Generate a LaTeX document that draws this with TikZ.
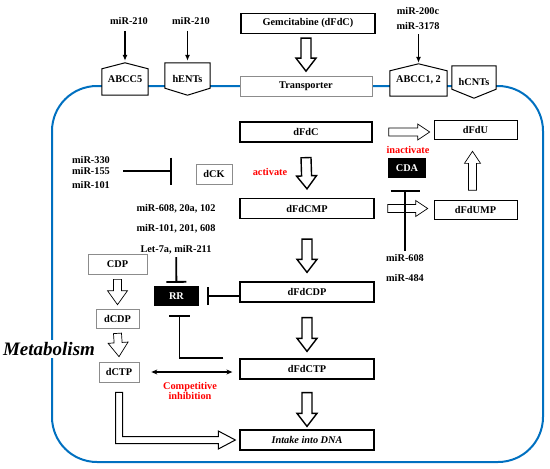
\documentclass[tikz,border=0pt]{standalone}
\usepackage{fontspec}
\setmainfont{Liberation Serif}
\usetikzlibrary{arrows.meta,positioning,calc}
\definecolor{membraneblue}{RGB}{0,112,192}
\definecolor{labelred}{RGB}{255,0,0}
\tikzset{
  box/.style      ={draw,line width=1.3pt,minimum width=134,minimum height=20,inner sep=0pt},
  thinbox/.style  ={draw,line width=0.7pt,minimum width=83,minimum height=19,inner sep=0pt},
  graybox/.style  ={draw=black!45,fill=white,line width=0.7pt,minimum height=20,inner sep=0pt},
  blackbox/.style ={fill=black,text=white,minimum height=20,inner sep=0pt},
  pump/.style     ={fill=white,minimum height=32,inner sep=0pt},
  mir/.style      ={align=center,inner sep=1pt},
  note/.style     ={text=labelred,align=center,inner sep=1pt},
  arrow/.style    ={-{Latex[length=6pt,width=5pt]},line width=1.1pt},
  inhibit/.style  ={-{Bar[width=#1]},line width=1.8pt},
  twoway/.style   ={{Stealth[length=6pt,width=5pt]}-{Stealth[length=6pt,width=5pt]},line width=1.6pt},
  hollow/.style n args={3}{to path={
      ($(\tikztostart)!#1!90:(\tikztotarget)$)
   -- ($($(\tikztotarget)!#3!(\tikztostart)$)!#1!90:(\tikztotarget)$)
   -- ($($(\tikztotarget)!#3!(\tikztostart)$)!#2!90:(\tikztotarget)$)
   -- (\tikztotarget)
   -- ($($(\tikztotarget)!#3!(\tikztostart)$)!#2!-90:(\tikztotarget)$)
   -- ($($(\tikztotarget)!#3!(\tikztostart)$)!#1!-90:(\tikztotarget)$)
   -- ($(\tikztostart)!#1!-90:(\tikztotarget)$)
   -- cycle}},
  fatarrow/.style ={hollow={5pt}{10pt}{13pt},draw,line width=1.4pt,fill=white},
  slimarrow/.style={hollow={4pt}{8pt}{12pt},draw,line width=0.7pt,fill=white},
  cdparrow/.style ={hollow={4pt}{10pt}{14pt},draw,line width=0.7pt,fill=white},
}

\begin{document}
\begin{tikzpicture}[x=1pt,y=-1pt,font=\fontsize{10.3}{12}\selectfont\bfseries]
  \useasboundingbox (0,0) rectangle (550,469);
  % cell membrane
  \draw[membraneblue,line width=2pt,rounded corners=45] (52,86) rectangle (543,462);
  \node[fill=white,inner sep=2pt,font=\fontsize{19}{21}\selectfont\bfseries\itshape] (metab) at (49,349) {Metabolism};

  % transporters on the membrane
  \node[pump,minimum width=46] (abcc5) at (125,79) {ABCC5};
  \node[pump,minimum width=45] (hents) at (187.5,79) {hENTs};
  \node[pump,minimum width=57] (abcc12) at (418.5,80) {ABCC1, 2};
  \node[pump,minimum width=44] (hcnts) at (474,82) {hCNTs};
  \draw[line width=1pt] (abcc5.south west) -- ([yshift=-6pt]abcc5.north west) -- (abcc5.north)
    -- ([yshift=-6pt]abcc5.north east) -- (abcc5.south east) -- cycle;
  \draw[line width=1pt] (abcc12.south west) -- ([yshift=-7pt]abcc12.north west) -- (abcc12.north)
    -- ([yshift=-7pt]abcc12.north east) -- (abcc12.south east) -- cycle;
  \draw[line width=1pt] (hents.north west) -- (hents.north east) -- ([yshift=7pt]hents.south east)
    -- (hents.south) -- ([yshift=7pt]hents.south west) -- cycle;
  \draw[line width=1pt] (hcnts.north west) -- (hcnts.north east) -- ([yshift=9pt]hcnts.south east)
    -- (hcnts.south) -- ([yshift=9pt]hcnts.south west) -- cycle;

  \node[mir] (mirabcc5) at (129,21) {miR-210};
  \node[mir] (mirhents) at (191,21) {miR-210};
  \node[mir] (mirabcc12) at (418,18) {miR-200c\\[3pt]miR-3178};
  \draw[arrow,shorten <=5pt,shorten >=2pt] (abcc5.north |- mirabcc5.south) -- (abcc5.north);
  \draw[arrow,shorten <=5pt,shorten >=2pt] (hents.north |- mirhents.south) -- (hents.north);
  \draw[arrow,shorten <=4pt,shorten >=1pt] (abcc12.north |- mirabcc12.south) -- (abcc12.north);

  % main pathway
  \node[box] (gem) at (308,23.5) {Gemcitabine (dFdC)};
  \node[graybox,minimum width=132] (trans) at (306,86.5) {Transporter};
  \node[box,minimum width=132] (dFdC) at (306,132) {dFdC};
  \node[box] (dFdCMP) at (307,208.5) {dFdCMP};
  \node[box] (dFdCDP) at (307,292) {dFdCDP};
  \node[box] (dFdCTP) at (307,369) {dFdCTP};
  \node[box] (dna) at (307,440) {\itshape Intake into DNA};

  \draw[fatarrow] ([yshift=-4pt]gem.south -| trans.north) to ([yshift=5pt]trans.north);
  \draw[fatarrow] ([yshift=-15pt]dFdC.south) to ([yshift=9pt]dFdCMP.north);
  \draw[fatarrow] ([yshift=-20pt]dFdCMP.south) to ([yshift=9pt]dFdCDP.north);
  \draw[fatarrow] ([yshift=-15pt]dFdCDP.south) to ([yshift=7pt]dFdCTP.north);
  \draw[fatarrow] ([yshift=-13pt]dFdCTP.south) to ([yshift=3pt]dna.north);

  % inactivation by CDA
  \node[thinbox] (dFdU) at (475.5,129.5) {dFdU};
  \node[thinbox] (dFdUMP) at (475.5,210) {dFdUMP};
  \node[blackbox,minimum width=38] (CDA) at (407,168) {CDA};
  \node[note] at (408,150) {inactivate};
  \draw[slimarrow] ([xshift=16pt]dFdC.east) to ([xshift=-4pt]dFdC.east -| dFdU.west);
  \draw[slimarrow] ([xshift=13pt]dFdCMP.east) to ([xshift=-6pt]dFdCMP.east -| dFdUMP.west);
  \draw[slimarrow] ([xshift=-3pt,yshift=10pt]dFdUMP.north) to ([xshift=-3pt,yshift=-12pt]dFdU.south);
  \node[mir] (mircda) at (405,268) {miR-608\\[8pt]miR-484};
  \draw[inhibit=29pt,shorten <=2pt,shorten >=12pt] (mircda.north) -- (mircda.north |- CDA.south);

  % activation by dCK
  \node[graybox,minimum width=36] (dCK) at (214,174) {dCK};
  \node[note] at (270,172) {activate};
  \node[mir,align=left] (mirdck) at (91,172) {miR-330\\[-1pt]miR-155\\[2pt]miR-101};
  \draw[inhibit=27pt,shorten <=12pt,shorten >=24pt] ([yshift=1pt]mirdck.east) -- ([yshift=1pt]mirdck.east -| dCK.west);

  % ribonucleotide reductase
  \node[blackbox,minimum width=45] (RR) at (176.5,296) {RR};
  \node[mir] (mirrr) at (176,229) {miR-608, 20a, 102\\[8pt]miR-101, 201, 608\\[9pt]Let-7a, miR-211};
  \draw[inhibit=20pt,shorten <=2pt,shorten >=3pt] (mirrr) -- (RR);
  \draw[inhibit=18pt,shorten >=8pt] (dFdCDP.west |- RR) -- (RR.east);
  \draw[inhibit=21pt,shorten >=9pt] ([xshift=-16pt]dFdCTP.north west) -| ([xshift=3pt]RR.south);

  % deoxycytidine branch
  \node[graybox,minimum width=59] (CDP) at (117.5,264) {CDP};
  \node[graybox,minimum width=43,minimum height=19] (dCDP) at (117.5,318.5) {dCDP};
  \node[graybox,minimum width=40] (dCTP) at (119,372) {dCTP};
  \draw[cdparrow] ([yshift=-5pt]CDP.south) to ([yshift=4pt]dCDP.north);
  \draw[cdparrow] ([yshift=-5pt]dCDP.south) to ([yshift=5pt]dCTP.north);
  \draw[twoway,shorten <=12pt,shorten >=7pt] (dCTP.east) -- (dCTP.east -| dFdCTP.west);
  \node[note] at (190,391) {Competitive\\[-2pt]inhibition};

  \coordinate (ltop) at ([yshift=-10pt]dCTP.south);
  \coordinate (lbend) at (ltop |- dna.west);
  \coordinate (ltip) at ([xshift=-4pt]dna.west);
  \draw[line width=1pt,fill=white] ($(ltop)+(-3.5,0)$) -- ($(lbend)+(-3.5,3.5)$) -- ($(ltip)+(-17,3.5)$)
    -- ($(ltip)+(-17,9)$) -- (ltip) -- ($(ltip)+(-17,-9)$) -- ($(ltip)+(-17,-3.5)$)
    -- ($(lbend)+(3.5,-3.5)$) -- ($(ltop)+(3.5,0)$) -- cycle;
\end{tikzpicture}
\end{document}
